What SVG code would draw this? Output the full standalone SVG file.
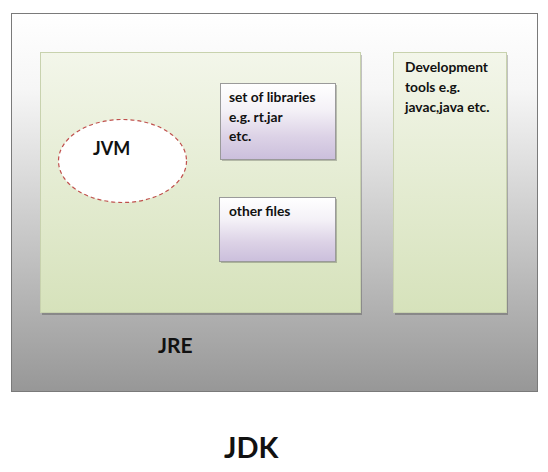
<svg xmlns="http://www.w3.org/2000/svg" width="548" height="472" viewBox="0 0 548 472">
<defs>
<linearGradient id="gOuter" x1="0" y1="0" x2="0" y2="1">
<stop offset="0" stop-color="#ffffff"/>
<stop offset="0.2" stop-color="#f6f6f6"/>
<stop offset="1" stop-color="#979797"/>
</linearGradient>
<linearGradient id="gGreen" x1="0" y1="0" x2="0" y2="1">
<stop offset="0" stop-color="#f3f6ea"/>
<stop offset="1" stop-color="#d6e2bb"/>
</linearGradient>
<linearGradient id="gPurple" x1="0" y1="0" x2="0" y2="1">
<stop offset="0" stop-color="#ffffff"/>
<stop offset="0.35" stop-color="#f4f1f7"/>
<stop offset="0.7" stop-color="#dcd2e6"/>
<stop offset="1" stop-color="#cbbfdc"/>
</linearGradient>
</defs>
<style>
.t{font-family:Lato,"Liberation Sans",sans-serif;font-weight:bold;fill:#111}
.s{font-size:13.8px}
.shadow{fill:#000;opacity:0.22}
.green{fill:url(#gGreen);stroke:#c8d2ae;stroke-width:1}
.purple{fill:url(#gPurple);stroke:#9a9a9a;stroke-width:1}
</style>
<g id="jdk">
<rect x="11.5" y="13.5" width="526" height="378" fill="url(#gOuter)" stroke="#7a7a7a" stroke-width="1"/>
<text class="t" x="224" y="458" font-size="29">JDK</text>
</g>
<g id="jre">
<rect class="shadow" x="42" y="55" width="320" height="260"/>
<rect class="green" x="40.5" y="52.5" width="320" height="260"/>
<text class="t" x="158" y="353" font-size="21">JRE</text>
</g>
<g id="devtools">
<rect class="shadow" x="395" y="55" width="113" height="260"/>
<rect class="green" x="393.5" y="52.5" width="113" height="260"/>
<text class="t s" x="405" y="72">Development</text>
<text class="t s" x="405" y="92">tools e.g.</text>
<text class="t s" x="405" y="112">javac,java etc.</text>
</g>
<g id="jvm">
<ellipse cx="122.5" cy="161" rx="64" ry="41.5" fill="#ffffff" stroke="#c0504d" stroke-width="1.2" stroke-dasharray="4,3"/>
<text class="t" x="93" y="155" font-size="18">JVM</text>
</g>
<g id="libraries">
<rect class="shadow" x="222" y="85" width="115" height="76"/>
<rect class="purple" x="220.5" y="83.5" width="115" height="76"/>
<text class="t s" x="229" y="102">set of libraries</text>
<text class="t s" x="229" y="122">e.g. rt.jar</text>
<text class="t s" x="229" y="141">etc.</text>
</g>
<g id="otherfiles">
<rect class="shadow" x="221" y="199" width="116" height="64"/>
<rect class="purple" x="219.5" y="197.5" width="116" height="64"/>
<text class="t s" x="229" y="216">other files</text>
</g>
<g id="connectors"/>
</svg>
